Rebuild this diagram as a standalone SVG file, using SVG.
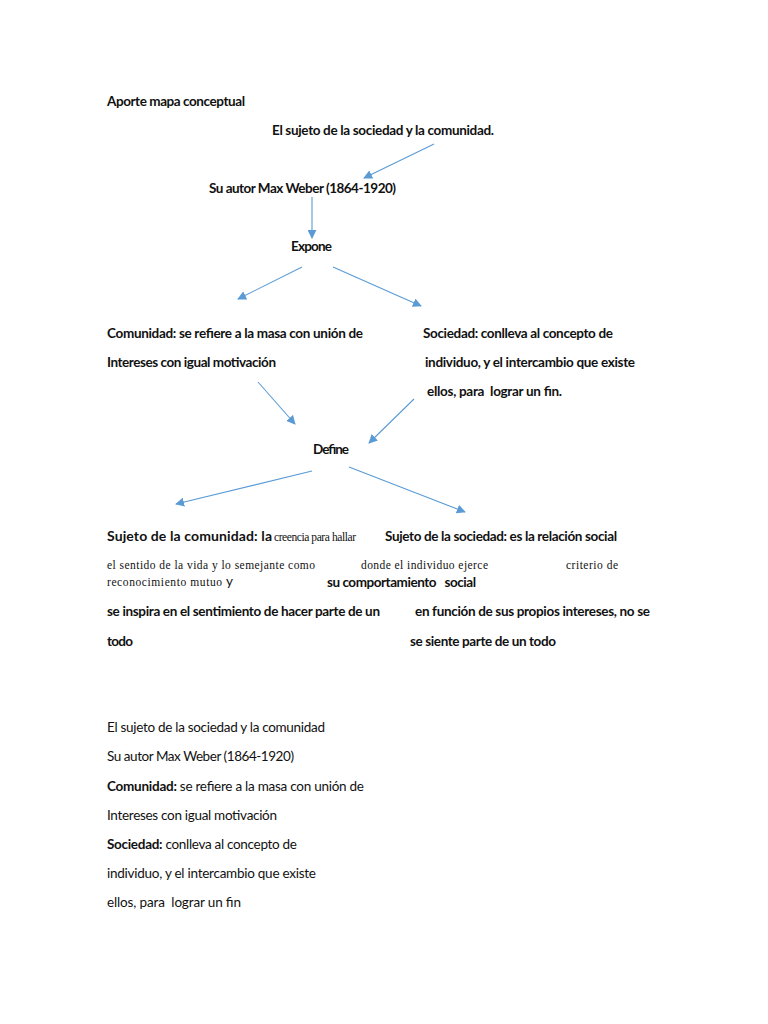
<svg xmlns="http://www.w3.org/2000/svg" width="768" height="1024" viewBox="0 0 768 1024">
<style>
.s{font-family:Lato,"Liberation Sans",sans-serif;font-size:13.5px;fill:#111}
.b{font-weight:bold}
.r{font-family:"Liberation Serif",serif;font-size:11.5px;fill:#111}
.c{stroke:#5b9bd5;stroke-width:1.1;fill:none}
</style>
<defs>
<marker id="ah" viewBox="0 0 10 10" refX="9" refY="5" markerWidth="9" markerHeight="9" markerUnits="userSpaceOnUse" orient="auto">
<path d="M0,0 L10,5 L0,10 z" fill="#5b9bd5"/>
</marker>
</defs>
<rect width="768" height="1024" fill="#fff"/>
<g id="title"><text class="s b" x="107" y="106" textLength="138">Aporte mapa conceptual</text></g>
<g id="n-sujeto"><text class="s b" x="272" y="135" textLength="222">El sujeto de la sociedad y la comunidad.</text></g>
<g id="n-autor"><text class="s b" x="209" y="193" textLength="187">Su autor Max Weber (1864-1920)</text></g>
<g id="n-expone"><text class="s b" x="291" y="251" textLength="41">Expone</text></g>
<g id="n-comunidad">
<text class="s b" x="107" y="338" textLength="256">Comunidad: se refiere a la masa con unión de</text>
<text class="s b" x="107" y="367" textLength="169">Intereses con igual motivación</text>
</g>
<g id="n-sociedad">
<text class="s b" x="423" y="338" textLength="190">Sociedad: conlleva al concepto de</text>
<text class="s b" x="425" y="367" textLength="210">individuo, y el intercambio que existe</text>
<text class="s b" x="427" y="396" textLength="135" xml:space="preserve">ellos, para  lograr un fin.</text>
</g>
<g id="n-define"><text class="s b" x="313" y="454" textLength="36">Define</text></g>
<g id="n-sujeto-comunidad">
<text class="s b" x="107" y="541" textLength="165" style="font-size:14px">Sujeto de la comunidad: la</text>
<text class="r" x="274" y="541" textLength="82">creencia para hallar</text>
<text class="r" x="107" y="569" textLength="208">el sentido de la vida y lo semejante como</text>
<text class="r" x="107" y="586" textLength="115">reconocimiento mutuo</text>
<text class="s" x="226" y="586">y</text>
<text class="s b" x="107" y="616" textLength="273">se inspira en el sentimiento de hacer parte de un</text>
<text class="s b" x="107" y="646" textLength="26">todo</text>
</g>
<g id="n-sujeto-sociedad">
<text class="s b" x="385" y="541" textLength="232">Sujeto de la sociedad: es la relación social</text>
<text class="r" x="361" y="569" textLength="127">donde el individuo ejerce</text>
<text class="r" x="566" y="569" textLength="52">criterio de</text>
<text class="s b" x="327" y="587" textLength="149" xml:space="preserve">su comportamiento   social</text>
<text class="s b" x="415" y="616" textLength="235">en función de sus propios intereses, no se</text>
<text class="s b" x="410" y="646" textLength="146">se siente parte de un todo</text>
</g>
<g id="summary">
<text class="s" x="107" y="732" textLength="218">El sujeto de la sociedad y la comunidad</text>
<text class="s" x="107" y="761" textLength="187">Su autor Max Weber (1864-1920)</text>
<text class="s" x="107" y="791" textLength="257"><tspan class="b">Comunidad:</tspan> se refiere a la masa con unión de</text>
<text class="s" x="107" y="820" textLength="170">Intereses con igual motivación</text>
<text class="s" x="107" y="849" textLength="190"><tspan class="b">Sociedad:</tspan> conlleva al concepto de</text>
<text class="s" x="107" y="878" textLength="209">individuo, y el intercambio que existe</text>
<text class="s" x="107" y="907" textLength="134" xml:space="preserve">ellos, para  lograr un fin</text>
</g>
<g id="connectors">
<line class="c" x1="434" y1="144" x2="364" y2="178" marker-end="url(#ah)"/>
<line class="c" x1="312" y1="197" x2="312" y2="238" marker-end="url(#ah)"/>
<line class="c" x1="302" y1="267" x2="238" y2="299" marker-end="url(#ah)"/>
<line class="c" x1="333" y1="267" x2="421" y2="306" marker-end="url(#ah)"/>
<line class="c" x1="258" y1="382" x2="295" y2="424" marker-end="url(#ah)"/>
<line class="c" x1="414" y1="399" x2="369" y2="443" marker-end="url(#ah)"/>
<line class="c" x1="312" y1="471" x2="176" y2="504" marker-end="url(#ah)"/>
<line class="c" x1="349" y1="467" x2="465" y2="512" marker-end="url(#ah)"/>
</g>
</svg>
